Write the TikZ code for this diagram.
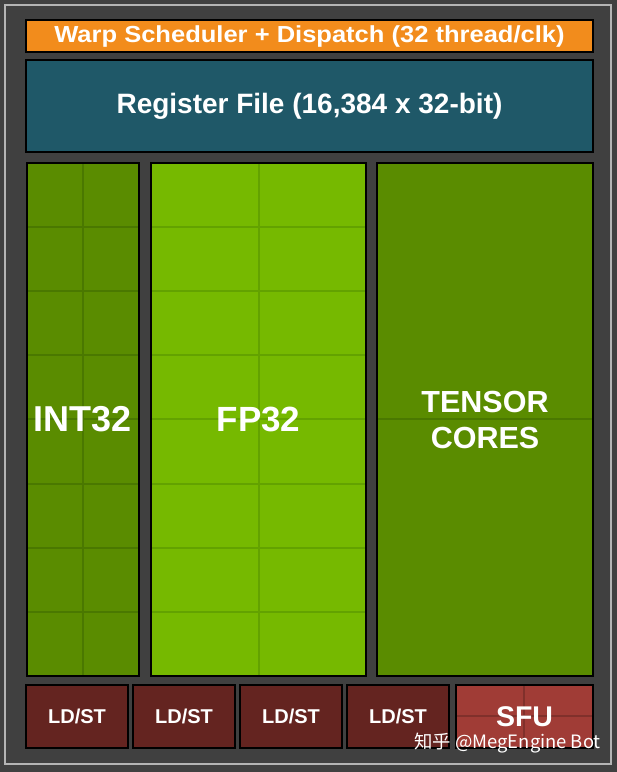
\documentclass[tikz,border=0pt]{standalone}
\usepackage{fontspec}
\setmainfont{Liberation Sans}
\newfontfamily\nb{Liberation Sans Bold}
\newfontfamily\nbw[FakeStretch=1.1]{Liberation Sans Bold}
\newfontfamily\cjk{Noto Sans CJK SC}
\definecolor{bgc}{HTML}{404040}
\definecolor{brd}{HTML}{B4B4B4}
\definecolor{orangec}{HTML}{F28C1C}
\definecolor{regc}{HTML}{1F5868}
\definecolor{intc}{HTML}{5A8C00}
\definecolor{intl}{HTML}{4A7800}
\definecolor{fpc}{HTML}{76B900}
\definecolor{fpl}{HTML}{63A200}
\definecolor{ldc}{HTML}{642420}
\definecolor{sfuc}{HTML}{A03C36}
\definecolor{sful}{HTML}{80302B}
\tikzset{
  blk/.style={draw=black, line width=2pt, inner sep=0pt, outer sep=0pt, anchor=north west, text=white, font=\nb},
}
\begin{document}
\begin{tikzpicture}[x=1pt,y=-1pt]
\useasboundingbox (0,0) rectangle (617,772);
\fill[bgc] (0,0) rectangle (617,772);
\draw[brd, line width=2.5pt] (5,5) rectangle (611,764);
% top
\node[blk, fill=orangec, minimum width=567pt, minimum height=32pt, font=\nbw\fontsize{23.2}{25}\selectfont] (warp) at (26,20) {Warp Scheduler + Dispatch (32 thread/clk)};
\node[blk, fill=regc, minimum width=567pt, minimum height=92pt, font=\nb\fontsize{28}{30}\selectfont] (reg) at (26,60) {Register File (16,384 x 32-bit)};
% INT32
\node[blk, fill=intc, minimum width=112pt, minimum height=513pt] (int) at (27,163) {};
\foreach \i in {1,...,7} \draw[intl, line width=2pt] (28,163+\i*64.1) -- (138,163+\i*64.1);
\draw[intl, line width=2pt] (83,164) -- (83,675);
\draw[black, line width=2pt] (27,163) rectangle (139,676);
\node[text=white, font=\nb\fontsize{36}{38}\selectfont] (intlab) at (int.center) {INT32};
% FP32
\node[blk, fill=fpc, minimum width=215pt, minimum height=513pt] (fp) at (151,163) {};
\foreach \i in {1,...,7} \draw[fpl, line width=2pt] (152,163+\i*64.1) -- (365,163+\i*64.1);
\draw[fpl, line width=2pt] (259,164) -- (259,675);
\draw[black, line width=2pt] (151,163) rectangle (366,676);
\node[text=white, font=\nb\fontsize{35}{37}\selectfont] (fplab) at (fp.center) {FP32};
% Tensor
\node[blk, fill=intc, minimum width=216pt, minimum height=513pt] (ten) at (377,163) {};
\draw[intl, line width=2pt] (378,419) -- (592,419);
\draw[black, line width=2pt] (377,163) rectangle (593,676);
\node[text=white, font=\nb\fontsize{30.5}{36}\selectfont, align=center] (tenlab) at (ten.center) {TENSOR\\CORES};
% bottom
\tikzset{ld/.style={blk, fill=ldc, minimum width=102pt, minimum height=63pt, font=\nb\fontsize{20}{22}\selectfont}}
\node[ld] (ld1) at (26,685) {LD/ST};
\node[ld] (ld2) at (133,685) {LD/ST};
\node[ld] (ld3) at (240,685) {LD/ST};
\node[ld] (ld4) at (347,685) {LD/ST};
\node[blk, fill=sfuc, minimum width=137pt, minimum height=63pt] (sfu) at (456,685) {};
\draw[sful, line width=2pt] (524,686) -- (524,747);
\draw[sful, line width=2pt] (457,716) -- (592,716);
\draw[black, line width=2pt] (456,685) rectangle (593,748);
\node[text=white, font=\nb\fontsize{28.5}{30}\selectfont] (sfulab) at (sfu.center) {SFU};
% watermark
\node[text=white, font=\cjk\fontsize{18.4}{20}\selectfont, anchor=east, inner sep=0pt] (wm) at (601,743) {知乎 @MegEngine Bot};
\end{tikzpicture}
\end{document}
